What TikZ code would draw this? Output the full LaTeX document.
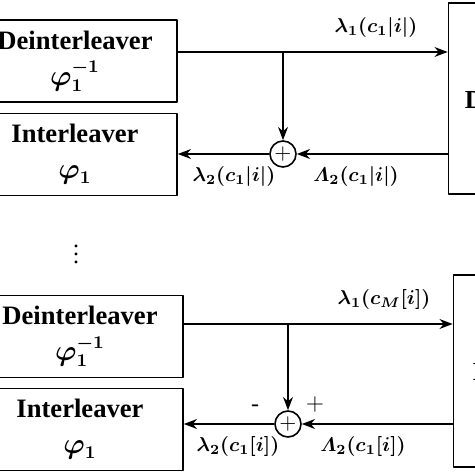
\documentclass[tikz,border=0pt]{standalone}
\usepackage{amsmath,bm}
\usepackage{fontspec}
\setmainfont{Liberation Serif}
\usetikzlibrary{arrows.meta}

\begin{document}
\begin{tikzpicture}[x=0.5pt, y=0.5pt, line width=0.8pt, line join=round, >=Stealth,
  blockbox/.style={draw, minimum width=103pt, minimum height=41pt, align=center, inner sep=1pt,
    font=\bfseries\fontsize{13.3}{17}\selectfont},
  decbox/.style={draw, minimum width=36pt, minimum height=96pt},
  adder/.style={draw, circle, minimum size=13pt, inner sep=0pt, font=\fontsize{11}{11}\selectfont},
  sig/.style={inner sep=1pt, font=\fontsize{10.4}{12}\selectfont}]
  \useasboundingbox (0,0) rectangle (474,474);

  % first branch
  \node[blockbox, minimum width=102pt] (deint1) at (75,413) {Deinterleaver\\[1pt] $\bm{\varphi_1^{-1}}$};
  \node[blockbox, minimum width=102pt] (int1) at (75,319.5) {Interleaver\\[1pt] $\bm{\varphi_1}$};
  \node[decbox, minimum height=95.5pt] (dec1) at (484.5,375.5) {};
  \node[anchor=west, inner sep=0pt, font=\bfseries\fontsize{13}{13}\selectfont] (dec1txt) at (464,374) {D};
  \node[adder] (sum1) at (283,320) {$+$};
  \coordinate (j1) at (283,422);
  \draw[->] (deint1.east |- j1) -- (dec1.west |- j1);
  \draw[->] (j1) -- (sum1.north);
  \draw[->] (dec1.west |- sum1) -- (sum1.east);
  \draw[->] (sum1.west) -- (int1.east |- sum1);
  \node[sig] (l11) at (376,446) {$\bm{\lambda_1(c_1|i|)}$};
  \node[sig] (l21) at (234,297) {$\bm{\lambda_2(c_1|i|)}$};
  \node[sig] (L21) at (356,297) {$\bm{\varLambda_2(c_1|i|)}$};

  \node[font=\fontsize{12}{12}\selectfont] (dots) at (76,226) {$\vdots$};

  % M-th branch
  \node[blockbox] (deint2) at (80,137.5) {Deinterleaver\\[1pt] $\bm{\varphi_1^{-1}}$};
  \node[blockbox] (int2) at (80,44.5) {Interleaver\\[1pt] $\bm{\varphi_1}$};
  \node[decbox] (dec2) at (489.5,103) {};
  \node[anchor=west, inner sep=0pt, font=\bfseries\fontsize{13}{13}\selectfont] (dec2txt) at (472,102) {D};
  \node[adder] (sum2) at (288,50) {$+$};
  \coordinate (j2) at (288,150);
  \draw[->] (deint2.east |- j2) -- (dec2.west |- j2);
  \draw[->] (j2) -- (sum2.north);
  \draw[->] (dec2.west |- sum2) -- (sum2.east);
  \draw[->] (sum2.west) -- (int2.east |- sum2);
  \node[sig] (l12) at (384,174) {$\bm{\lambda_1(c_M[i])}$};
  \node[sig] (l22) at (238,27) {$\bm{\lambda_2(c_1[i])}$};
  \node[sig] (L22) at (363,27) {$\bm{\varLambda_2(c_1[i])}$};
  \node[sig, font=\fontsize{12}{12}\selectfont] (minus) at (255,66) {-};
  \node[sig, font=\fontsize{12}{12}\selectfont] (plus) at (315,69) {$+$};
\end{tikzpicture}
\end{document}
